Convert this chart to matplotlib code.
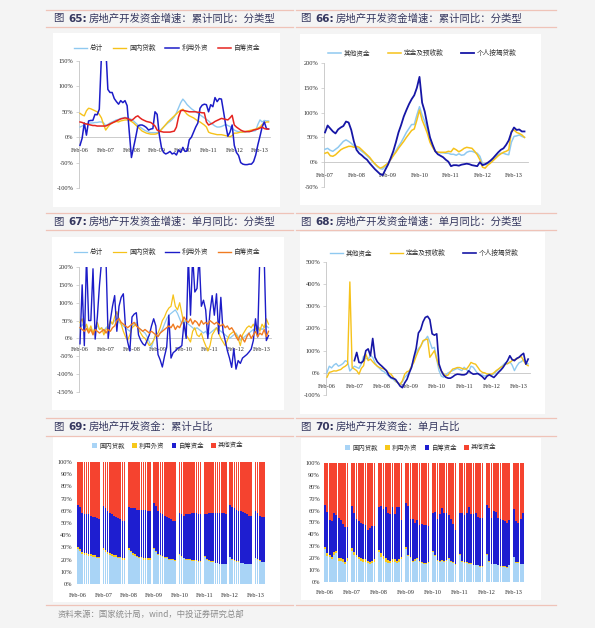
import numpy as np
import matplotlib
matplotlib.use('Agg')
import matplotlib.pyplot as plt
from matplotlib.patches import Rectangle, Patch
from matplotlib.lines import Line2D

# ---------------- data ----------------
labels_06 = ['Feb-06', 'Feb-07', 'Feb-08', 'Feb-09', 'Feb-10', 'Feb-11', 'Feb-12', 'Feb-13']
labels_07 = ['Feb-07', 'Feb-08', 'Feb-09', 'Feb-10', 'Feb-11', 'Feb-12', 'Feb-13']

# Fig 65 : cumulative YoY, monthly from Feb-06
total65 = [20,22,24,26,27,28,28,29,29,30,30,28,
           23,25,28,30,32,34,35,37,38,39,38,37,
           35,32,28,24,20,17,14,12,10,9,9,9,
           9,12,16,20,24,28,31,35,40,48,58,68,
           75,70,64,60,56,53,50,47,44,41,38,35,
           32,28,25,22,20,20,21,23,25,23,21,18,
           14,12,11,10,10,10,11,11,12,12,13,25,
           34,30,33,32,32]
domestic65 = [47,44,42,52,57,56,54,52,50,45,38,25,
              14,20,25,28,30,31,30,32,33,34,34,33,
              31,28,24,20,16,12,10,8,7,6,6,6,
              7,10,15,20,25,30,34,38,42,46,50,53,
              55,50,45,42,40,38,35,32,30,27,24,20,
              10,8,7,6,5,5,5,4,3,2,1,3,
              8,8,9,10,10,11,12,13,14,15,16,18,
              20,25,28,30,30]
foreign65 = [-16,-2,28,4,32,33,33,45,44,55,160,260,
             180,94,88,88,76,70,65,72,68,72,62,10,
             -40,-20,0,22,24,24,22,19,14,16,17,50,
             45,5,-20,-30,-33,-31,-28,-33,-31,-35,-25,-30,
             -20,-28,-27,-5,0,10,20,28,57,63,65,64,
             50,64,60,78,70,76,75,50,24,2,10,24,
             -16,-30,-36,-50,-53,-54,-54,-53,-53,-48,-35,-15,
             2,20,30,17,16]
self65 = [30,29,27,26,25,24,23,23,22,22,22,22,
          22,24,26,28,30,32,34,36,37,38,37,35,
          33,36,40,42,38,35,33,31,30,29,26,22,
          14,12,11,10,10,10,10,11,12,20,40,52,
          53,52,51,50,50,50,50,49,49,48,48,30,
          24,26,28,31,33,35,37,36,35,34,38,43,
          24,20,17,14,12,11,11,11,12,14,15,16,
          18,20,17,16,16]

# Fig 66 : cumulative YoY, monthly from Feb-07
other66 = [26,28,24,22,26,30,36,42,45,42,38,33,
           30,26,22,18,13,8,2,-4,-9,-13,-14,-8,
           -2,5,14,23,32,40,50,60,68,76,76,95,
           112,95,82,65,48,32,22,20,19,19,18,18,
           16,16,14,17,14,15,20,22,22,20,18,12,
           -3,-5,-3,0,5,10,15,18,18,16,15,40,
           52,53,55,52,50]
deposit66 = [18,20,13,12,15,20,25,28,30,32,32,30,
             32,30,25,20,15,10,3,-3,-8,-12,-10,-6,
             -2,5,13,20,28,35,42,50,57,64,67,85,
             105,85,72,58,40,30,22,20,20,20,20,22,
             21,28,25,21,24,28,30,29,28,22,15,5,
             -10,-12,-6,-2,3,8,13,17,20,22,25,62,
             65,60,58,55,50]
mortgage66 = [60,74,68,62,58,66,70,73,82,80,65,42,
              25,18,14,9,5,-2,-8,-14,-19,-24,-26,-15,
              -5,8,22,40,60,75,92,105,117,127,135,150,
              172,120,102,75,50,35,22,16,13,10,5,1,
              -8,-6,-6,-7,-5,-4,-3,-4,-6,-7,-8,0,
              -6,-4,-1,3,8,14,20,25,28,35,44,60,
              70,65,66,62,62]

# Fig 67 : single-month YoY, monthly from Feb-06
total67 = [25,40,30,35,22,28,18,30,35,25,30,20,
           30,35,45,40,50,55,45,40,35,30,25,20,
           35,40,45,30,25,20,15,5,-10,-25,-5,15,
           5,15,25,40,55,65,70,75,80,70,55,40,
           50,45,40,35,30,25,30,25,20,15,20,10,
           15,20,25,30,25,20,15,10,5,0,5,10,
           15,5,-5,0,5,10,15,20,25,20,25,30,
           25,30,35,30]
domestic67 = [45,55,30,40,20,35,15,30,45,25,30,10,
              25,30,50,40,60,75,55,40,20,5,-5,10,
              30,35,40,25,15,5,0,-10,-20,-15,-5,10,
              15,30,50,60,75,85,90,122,90,80,100,70,
              40,10,0,-10,20,30,10,5,15,-5,-20,-35,
              -20,10,20,30,15,0,-10,-20,-5,10,15,20,
              10,0,-20,10,20,30,35,30,40,25,35,20,
              40,30,55,40]
foreign67 = [-15,150,-20,230,50,50,195,-2,60,150,220,230,
             220,0,50,90,120,20,90,115,125,30,-10,-35,
             60,68,72,10,-5,-15,-20,-5,10,35,55,35,
             -45,-60,-80,-50,-25,65,-55,-40,-35,-28,-25,-20,
             45,0,230,65,230,130,140,230,90,107,80,0,
             75,120,65,125,13,115,20,-6,-34,-55,-81,-29,
             -86,-62,-70,-55,-50,-45,-38,-30,-6,55,4,230,
             230,230,-6,8]
self67 = [30,25,20,28,15,25,10,25,20,15,20,25,
          15,25,20,30,35,50,55,45,40,35,30,35,
          40,45,35,30,25,20,25,20,15,20,15,10,
          5,15,20,25,30,35,30,40,25,35,30,45,
          60,50,45,55,40,50,45,35,50,40,45,40,
          50,45,40,45,40,35,40,30,35,25,30,20,
          5,-5,10,0,-10,5,15,0,10,20,5,15,
          10,25,5,20]

# Fig 68 : single-month YoY, monthly from Feb-06
other68 = [2,30,22,35,42,30,35,42,55,50,8,20,
           30,25,20,40,75,65,62,78,70,45,30,20,
           10,5,-5,-15,-25,-30,-40,-45,-50,-40,-20,-10,
           5,30,60,90,110,120,140,150,165,140,110,115,
           60,10,-15,-20,-10,0,5,10,15,20,15,10,
           25,15,5,30,25,10,-5,-10,-10,-15,-10,-5,
           -10,-5,5,15,25,35,45,40,50,35,10,30,
           45,50,60,45,40]
deposit68 = [-20,2,5,9,8,12,15,24,30,39,410,24,
             17,10,-6,20,32,85,55,62,50,39,30,24,
             20,17,10,0,-6,-20,-36,-45,-52,-35,-6,5,
             9,30,47,75,100,120,145,150,152,70,85,100,
             62,30,9,-5,-14,-10,5,17,20,24,24,20,
             17,17,30,47,42,39,25,10,2,0,-5,-6,
             -6,0,10,17,25,30,39,42,47,55,60,62,
             70,73,55,39,32]
mortgage68 = [None,None,None,None,None,None,None,None,None,None,None,None,
              55,92,47,45,55,100,108,77,155,70,50,39,
              30,20,10,-10,-21,-25,-30,-45,-60,-67,-45,-29,
              0,25,70,110,180,195,230,250,255,240,176,170,
              176,40,9,-10,-20,-24,-24,-18,-10,-6,-7,-9,
              -9,-5,9,0,-6,-5,-3,-10,-18,-29,-15,-9,
              -15,-21,-10,2,12,24,40,55,77,60,55,65,
              70,80,88,39,62]

# Fig 69 : cumulative share (%), Feb..Dec of each year
cum_domestic = [[29,27,25,24,24,23,23,22,22,21,21],
                [28,26,25,24,23,22,22,21,21,20,20],
                [28,26,24,23,22,21,21,20,20,20,20],
                [29,26,24,23,22,21,21,20,20,20,19],
                [24,22,21,20,20,20,19,19,19,18,18],
                [22,20,19,18,18,17,17,16,16,16,16],
                [22,20,19,18,18,17,17,16,16,16,16],
                [21,20,19,18,18]]
cum_foreign = [[1.5,1.5,1.5,1.5,1.5,1.5,1.5,1.5,1.5,1.5,1.5],
               [1.5,1.5,1.5,1.5,1.5,1.5,1.5,1.5,1.5,1.5,1.5],
               [1.2,1.2,1.2,1.2,1.2,1.2,1.2,1.2,1.2,1.2,1.2],
               [0.8,0.8,0.8,0.8,0.8,0.8,0.8,0.8,0.8,0.8,0.8],
               [0.6,0.6,0.6,0.6,0.6,0.6,0.6,0.6,0.6,0.6,0.6],
               [0.6,0.6,0.6,0.6,0.6,0.6,0.6,0.6,0.6,0.6,0.6],
               [0.5,0.5,0.5,0.5,0.5,0.5,0.5,0.5,0.5,0.5,0.5],
               [0.4,0.4,0.4,0.4,0.4]]
cum_self = [[34.5,34.5,31.5,31.5,31.5,32.5,31.5,31.5,31.5,31.5,30.5],
            [34.5,34.5,33.5,32.5,32.5,32.5,31.5,31.5,30.5,30.5,30.5],
            [33.8,34.8,36.8,37.8,37.8,38.8,38.8,39.8,39.8,38.8,38.8],
            [36.2,37.2,35.2,34.2,34.2,34.2,33.2,33.2,32.2,31.2,32.2],
            [33.4,34.4,34.4,36.4,36.4,36.4,38.4,38.4,38.4,38.4,38.4],
            [34.4,36.4,38.4,39.4,39.4,40.4,40.4,41.4,41.4,41.4,40.4],
            [42.5,42.5,42.5,42.5,41.5,42.5,41.5,41.5,40.5,39.5,39.5],
            [38.6,37.6,36.6,36.6,36.6]]
cum_other = [[35,37,42,43,43,43,44,45,45,46,47],
             [36,38,40,42,43,44,45,46,47,48,48],
             [37,38,38,38,39,39,39,39,39,40,40],
             [34,36,40,42,43,44,45,46,47,48,48],
             [42,43,44,43,43,43,42,42,42,43,43],
             [43,43,42,42,42,42,42,42,42,42,43],
             [35,37,38,39,40,40,41,42,43,44,44],
             [40,42,44,45,45]]

# Fig 70 : single-month share (%)
mon_domestic = [[28,22,21,19,23,24,18,18,17,15,18],
                [26,23,21,19,18,17,17,16,15,16,17],
                [25,21,19,17,16,16,17,17,16,17,19],
                [28,22,20,17,18,19,17,16,15,15,16],
                [25,22,18,17,18,17,18,19,17,16,14],
                [23,17,16,16,15,15,14,14,14,13,13],
                [23,17,15,15,15,14,13,13,13,12,14],
                [21,16,16,15,15]]
mon_foreign = [[1.5,2,2,2,2,2,2,2,2,2,2],
               [2.5,2.5,2,2,2,2,2,2,2,2,2],
               [2,3,3,3,2.5,2,2,2,2,2,2],
               [1,1,1,1,1,1,1,1,1,1,1],
               [0.8,0.8,0.8,0.8,0.8,0.8,0.8,0.8,0.8,0.8,0.8],
               [0.6,0.6,0.6,0.6,0.6,0.6,0.6,0.6,0.6,0.6,0.6],
               [0.5,0.5,0.5,0.5,0.5,0.5,0.5,0.5,0.5,0.5,0.5],
               [0.4,0.4,0.4,0.4,0.4]]
mon_self = [[35.5,35,29,30,33,30,34,32,30,29,26],
            [35.5,32.5,30,30,30,30,29,26,28,29,28],
            [36,40,39,43,39.5,39,44,38,45,44,31],
            [37,41,32,35,31,32,30,32,32,32,30],
            [32.2,36.2,34.2,39.2,43.2,40.2,39.2,36.2,35.2,32.2,29.2],
            [34.4,40.4,39.4,41.4,47.4,41.4,42.4,43.4,40.4,40.4,40.4],
            [41.5,44.5,38.5,44.5,43.5,39.5,39.5,38.5,37.5,37.5,37.5],
            [39.6,34.6,33.6,37.6,42.6]]
mon_other = [[35,41,48,49,42,44,46,48,51,54,54],
             [36,42,47,49,50,51,52,56,55,53,53],
             [37,36,39,37,42,43,37,43,37,37,48],
             [34,36,47,47,50,48,52,51,52,52,53],
             [42,41,47,43,38,42,42,44,47,51,56],
             [42,42,44,42,37,43,43,42,45,46,46],
             [35,38,46,40,41,46,47,48,49,50,48],
             [39,49,50,47,42]]

# ---------------- style ----------------
W, H = 595, 628
fig = plt.figure(figsize=(W / 100, H / 100), dpi=100)
fig.patch.set_facecolor('#f4f4f4')
CJK = ['Noto Sans CJK SC', 'DejaVu Sans']
SERIF = ['Liberation Serif', 'DejaVu Serif']
TXT = '#333333'
TITLE_C = '#35375f'
AX_C = '#c4c4c4'
PT = 0.72  # points per pixel at 100 dpi

C_LB = '#8fc9f0'
C_GOLD = '#f6c21a'
C_BLUE = '#1c1cc8'
C_NAVY = '#1616a6'
C_RED = '#e52420'
C_ORANGE = '#f07b22'
B_LB = '#a9d4f6'
B_Y = '#f7c81a'
B_BLUE = '#1e1ed0'
B_RED = '#f5432f'


def fx(x):
    return x / W


def fy(y):
    return 1 - y / H


def rect_px(x0, y0, x1, y1):
    return [fx(x0), fy(y1), (x1 - x0) / W, (y1 - y0) / H]


def white_box(x0, y0, x1, y1):
    fig.add_artist(Rectangle((fx(x0), fy(y1)), (x1 - x0) / W, (y1 - y0) / H,
                             transform=fig.transFigure, facecolor='white',
                             edgecolor='none', zorder=-5))


def rule(x0, x1, y):
    fig.add_artist(Line2D([fx(x0), fx(x1)], [fy(y), fy(y)], transform=fig.transFigure,
                          color='#efc3b8', lw=0.9, zorder=-4))


def title(x, y, num, text):
    fig.text(fx(x), fy(y), '图', family=CJK, fontsize=7.5, color=TITLE_C, va='center')
    fig.text(fx(x + 15), fy(y), num + ':', family=['DejaVu Sans'], fontsize=7.5,
             fontweight='bold', color=TITLE_C, va='center')
    fig.text(fx(x + 36), fy(y), text, family=CJK, fontsize=7.5, color=TITLE_C, va='center')


def style_ticks(ax):
    for lab in ax.get_xticklabels() + ax.get_yticklabels():
        lab.set_fontfamily(SERIF)
        lab.set_fontsize(4.6)
        lab.set_color(TXT)


def line_panel(box, x0px, per, ylim, yticks, xlabels, pad_px, series, leg_xy, colspace):
    left, top, right, bottom = box
    ax = fig.add_axes(rect_px(left, top, right, bottom))
    ax.set_facecolor('none')
    for name, vals, color, lw in series:
        y = np.array(vals, dtype=float)
        ax.plot(np.arange(len(y)), y, color=color, lw=lw, label=name, zorder=3,
                solid_joinstyle='round')
    ax.set_xlim((left - x0px) / per, (right - x0px) / per)
    ax.set_ylim(*ylim)
    ax.set_yticks(yticks)
    ax.set_yticklabels([f'{v}%' for v in yticks])
    ax.set_xticks(np.arange(len(xlabels)) * 12)
    ax.set_xticklabels(xlabels)
    for s in ['top', 'right']:
        ax.spines[s].set_visible(False)
    ax.spines['left'].set_color(AX_C)
    ax.spines['left'].set_linewidth(0.6)
    ax.spines['bottom'].set_position(('data', 0))
    ax.spines['bottom'].set_color(AX_C)
    ax.spines['bottom'].set_linewidth(0.6)
    ax.tick_params(axis='x', length=0, pad=pad_px * PT)
    ax.tick_params(axis='y', length=2, width=0.5, color=AX_C, pad=2)
    style_ticks(ax)
    ax.legend(loc='center', bbox_to_anchor=(fx(leg_xy[0]), fy(leg_xy[1])),
              bbox_transform=fig.transFigure, ncol=len(series), frameon=False,
              prop={'family': CJK, 'size': 4.8}, handlelength=2.0, handletextpad=0.4,
              columnspacing=colspace, borderpad=0, labelcolor=TXT)
    return ax


def bar_panel(box, groups, pad_px, ypad_px, leg_xy):
    left, top, right, bottom = box
    ax = fig.add_axes(rect_px(left, top, right, bottom))
    ax.set_facecolor('none')
    pos = np.concatenate([yi * 12 + np.arange(len(g)) for yi, g in enumerate(groups[0][1])])
    base = np.zeros(len(pos))
    for name, data, color in groups:
        vals = np.concatenate([np.array(g, dtype=float) for g in data])
        ax.bar(pos, vals, bottom=base, width=0.8, color=color, linewidth=0, label=name)
        base = base + vals
    ax.set_xlim(-0.5, 88.5)
    ax.set_ylim(0, 100)
    yt = list(range(0, 101, 10))
    ax.set_yticks(yt)
    ax.set_yticklabels([f'{v}%' for v in yt])
    ax.set_xticks(np.arange(8) * 12)
    ax.set_xticklabels(labels_06)
    for s in ax.spines.values():
        s.set_visible(False)
    ax.tick_params(axis='x', length=0, pad=pad_px * PT)
    ax.tick_params(axis='y', length=0, pad=ypad_px * PT)
    style_ticks(ax)
    handles = [Patch(facecolor=c, edgecolor='none') for _, _, c in groups]
    ax.legend(handles, [n for n, _, _ in groups], loc='center',
              bbox_to_anchor=(fx(leg_xy[0]), fy(leg_xy[1])), bbox_transform=fig.transFigure,
              ncol=4, frameon=False, prop={'family': CJK, 'size': 4.6},
              handlelength=0.75, handleheight=0.75, handletextpad=0.35,
              columnspacing=1.1, borderpad=0, labelcolor=TXT)
    return ax


# ---------------- page furniture ----------------
white_box(53, 33, 280, 207)
white_box(300, 34, 541, 205)
white_box(52, 237, 284, 410)
white_box(300, 232, 545, 414)
white_box(53, 436, 280, 602)
white_box(301, 438, 541, 600)

for yy in (10, 27, 213, 230, 418, 436, 605):
    rule(46, 293, yy)
    rule(296, 556, yy)

title(53, 18.5, '65', '房地产开发资金增速：累计同比：分类型')
title(300, 18.5, '66', '房地产开发资金增速：累计同比：分类型')
title(53, 222, '67', '房地产开发资金增速：单月同比：分类型')
title(300, 222, '68', '房地产开发资金增速：单月同比：分类型')
title(53, 427, '69', '房地产开发资金：累计占比')
title(300, 427, '70', '房地产开发资金：单月占比')

fig.text(fx(58), fy(614), '资料来源：国家统计局，wind，中投证券研究总部', family=CJK,
         fontsize=6, color='#8c8c8c', va='center')

# ---------------- charts ----------------
line_panel((79, 61, 270, 188), 80, 180 / 84, (-100, 150), [-100, -50, 0, 50, 100, 150],
           labels_06, 11,
           [('总计', total65, C_LB, 1.0), ('国内贷款', domestic65, C_GOLD, 1.0),
            ('利用外资', foreign65, C_BLUE, 1.1), ('自筹资金', self65, C_RED, 1.1)],
           (167, 48), 1.5)

line_panel((324, 63, 528, 187), 325, 189 / 72, (-50, 200), [-50, 0, 50, 100, 150, 200],
           labels_07, 11,
           [('其他资金', other66, C_LB, 1.1), ('定金及预收款', deposit66, C_GOLD, 1.1),
            ('个人按揭贷款', mortgage66, C_NAVY, 1.3)],
           (422, 53), 2.6)

line_panel((79, 267, 271, 392), 80, 182 / 84, (-150, 200),
           [-150, -100, -50, 0, 50, 100, 150, 200], labels_06, 9,
           [('总计', total67, C_LB, 0.9), ('国内贷款', domestic67, C_GOLD, 0.9),
            ('利用外资', foreign67, C_BLUE, 1.0), ('自筹资金', self67, C_ORANGE, 1.0)],
           (167, 252), 1.5)

line_panel((326, 262, 530, 395), 327, 192 / 84, (-100, 500),
           [-100, 0, 100, 200, 300, 400, 500], labels_06, 11,
           [('其他资金', other68, C_LB, 1.0), ('定金及预收款', deposit68, C_GOLD, 1.0),
            ('个人按揭贷款', mortgage68, C_NAVY, 1.2)],
           (424, 253), 2.6)

bar_panel((77, 462, 265, 584),
          [('国内贷款', cum_domestic, B_LB), ('利用外资', cum_foreign, B_Y),
           ('自筹资金', cum_self, B_BLUE), ('其他资金', cum_other, B_RED)],
          9, 5, (168, 446))

bar_panel((324, 463, 524, 582),
          [('国内贷款', mon_domestic, B_LB), ('利用外资', mon_foreign, B_Y),
           ('自筹资金', mon_self, B_BLUE), ('其他资金', mon_other, B_RED)],
          8, 4, (421, 448))

fig.savefig('out.png', dpi=100, facecolor=fig.get_facecolor())
